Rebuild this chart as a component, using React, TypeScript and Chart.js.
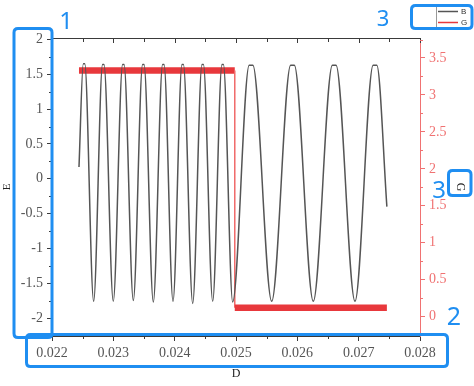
import React, { useEffect, useRef } from "react";
import { Chart, registerables } from "chart.js";
Chart.register(...registerables);

// ---- data ----
const seriesBLabel = "B";
const seriesGLabel = "G";

const bX = [
  0.02244,
  0.02251, 0.022534, 0.022679,
  0.022824, 0.022848, 0.022999,
  0.023151, 0.023175, 0.023326,
  0.023477, 0.023501, 0.023652,
  0.023803, 0.023827, 0.023973,
  0.024119, 0.024143, 0.024294,
  0.024445, 0.024469, 0.02462,
  0.024771, 0.024795, 0.024946,
  0.025215, 0.025275, 0.025582,
  0.025891, 0.025951, 0.02626,
  0.026571, 0.026631, 0.02694,
  0.027236, 0.027296, 0.02746,
];
const bY = [
  0.17,
  1.65, 1.65, -1.76,
  1.64, 1.64, -1.76,
  1.64, 1.64, -1.75,
  1.64, 1.64, -1.77,
  1.64, 1.64, -1.76,
  1.64, 1.64, -1.79,
  1.64, 1.64, -1.76,
  1.64, 1.64, -1.77,
  1.63, 1.63, -1.76,
  1.63, 1.63, -1.76,
  1.63, 1.63, -1.76,
  1.63, 1.63, -0.4,
];

const gX = [0.02244, 0.02498, 0.02498, 0.02746];
const gY = [3.33, 3.33, 0.12, 0.12];

const xTicks = [0.022, 0.023, 0.024, 0.025, 0.026, 0.027, 0.028];
const leftTicks = [-2, -1.5, -1, -0.5, 0, 0.5, 1, 1.5, 2];
const rightTicks = [0, 0.5, 1, 1.5, 2, 2.5, 3, 3.5];

const xTitle = "D";
const leftTitle = "E";
const rightTitle = "G";

// ---- styles ----
const AXIS = "#3a3a3a";
const LABEL = "#555";
const RED_AXIS = "#f07272";
const RED = "#e8383c";
const RED_THIN = "#f06a6a";
const GREY_LINE = "#555";
const BLUE = "#1f8ef1";
const TICK_FONT = { family: "'Liberation Serif', serif", size: 14 };

function minors(major: number[], min: number, max: number) {
  const out: number[] = [];
  const step = major[1] - major[0];
  const first = major[0] - step / 2;
  for (let i = -1; i < major.length; i++) {
    const v = i < 0 ? first : major[i] + step / 2;
    if (v >= min && v <= max) out.push(v);
  }
  return out;
}

function roundBox(ctx: CanvasRenderingContext2D, x1: number, y1: number, x2: number, y2: number, r: number) {
  ctx.beginPath();
  ctx.moveTo(x1 + r, y1);
  ctx.lineTo(x2 - r, y1);
  ctx.quadraticCurveTo(x2, y1, x2, y1 + r);
  ctx.lineTo(x2, y2 - r);
  ctx.quadraticCurveTo(x2, y2, x2 - r, y2);
  ctx.lineTo(x1 + r, y2);
  ctx.quadraticCurveTo(x1, y2, x1, y2 - r);
  ctx.lineTo(x1, y1 + r);
  ctx.quadraticCurveTo(x1, y1, x1 + r, y1);
  ctx.closePath();
  ctx.stroke();
}

const framePlugin = {
  id: "frameAndNotes",
  afterDraw(chart: any) {
    const { ctx, chartArea: ca, scales } = chart;
    const sx = scales.x, sy = scales.y, sy2 = scales.y2;
    ctx.save();
    ctx.lineWidth = 1;
    // top frame line
    ctx.strokeStyle = AXIS;
    ctx.beginPath();
    ctx.moveTo(ca.left, Math.round(ca.top) + 0.5);
    ctx.lineTo(ca.right, Math.round(ca.top) + 0.5);
    ctx.stroke();
    const xm = minors(xTicks, sx.min, sx.max);
    const tick = (px: number, py: number, dx: number, dy: number) => {
      ctx.beginPath();
      ctx.moveTo(px, py);
      ctx.lineTo(px + dx, py + dy);
      ctx.stroke();
    };
    // top inward ticks
    xTicks.forEach((v) => tick(Math.round(sx.getPixelForValue(v)) + 0.5, ca.top, 0, 5));
    xm.forEach((v) => tick(Math.round(sx.getPixelForValue(v)) + 0.5, ca.top, 0, 4));
    // bottom minor ticks
    xm.forEach((v) => tick(Math.round(sx.getPixelForValue(v)) + 0.5, ca.bottom, 0, 3));
    // left minor ticks
    minors(leftTicks, sy.min, sy.max).forEach((v) =>
      tick(ca.left, Math.round(sy.getPixelForValue(v)) + 0.5, -3, 0)
    );
    // right minor ticks
    ctx.strokeStyle = RED_AXIS;
    minors(rightTicks, sy2.min, sy2.max).forEach((v) =>
      tick(ca.right, Math.round(sy2.getPixelForValue(v)) + 0.5, 3, 0)
    );

    // legend
    const ds = chart.data.datasets;
    ctx.strokeStyle = "#999";
    tick(436.5, 6, 0, 22);
    ctx.lineWidth = 1.5;
    ctx.strokeStyle = GREY_LINE;
    tick(438, 11.5, 20, 0);
    ctx.strokeStyle = RED;
    tick(438, 22.5, 20, 0);
    ctx.fillStyle = "#333";
    ctx.font = "8px 'Liberation Sans', sans-serif";
    ctx.textBaseline = "middle";
    ctx.textAlign = "left";
    ctx.fillText(ds[0].label, 461, 11.5);
    ctx.fillText(ds[1].label, 461, 22.5);

    // blue annotation boxes
    ctx.strokeStyle = BLUE;
    ctx.lineWidth = 3;
    roundBox(ctx, 14, 28.5, 52, 337.5, 4);
    roundBox(ctx, 26.5, 334.5, 447.5, 366.5, 4);
    roundBox(ctx, 411.5, 5.5, 472, 28.5, 4);
    roundBox(ctx, 448.5, 170.5, 471, 195.5, 4);
    ctx.fillStyle = BLUE;
    ctx.textAlign = "center";
    ctx.textBaseline = "middle";
    ctx.font = "24px 'Noto Sans', sans-serif";
    ctx.fillText("1", 66, 22);
    ctx.fillText("3", 439, 191);
    ctx.font = "25px 'Noto Sans', sans-serif";
    ctx.fillText("2", 454, 318);
    ctx.font = "22px 'Noto Sans', sans-serif";
    ctx.fillText("3", 383, 20);
    ctx.restore();
  },
};

export default function App() {
  const ref = useRef<HTMLCanvasElement>(null);
  useEffect(() => {
    const canvas = ref.current!;
    const chart = new Chart(canvas, {
      type: "line",
      data: {
        datasets: [
          {
            label: seriesBLabel,
            data: bX.map((x, i) => ({ x, y: bY[i] })),
            borderColor: GREY_LINE,
            borderWidth: 1.5,
            pointRadius: 0,
            cubicInterpolationMode: "monotone",
            yAxisID: "y",
          },
          {
            label: seriesGLabel,
            data: gX.map((x, i) => ({ x, y: gY[i] })),
            borderColor: RED,
            borderWidth: 6.5,
            borderCapStyle: "butt",
            pointRadius: 0,
            tension: 0,
            yAxisID: "y2",
            segment: {
              borderWidth: (c: any) => (c.p0.parsed.x === c.p1.parsed.x ? 1.5 : 6.5),
              borderColor: (c: any) => (c.p0.parsed.x === c.p1.parsed.x ? RED_THIN : RED),
            },
          },
        ],
      },
      options: {
        animation: false,
        responsive: false,
        devicePixelRatio: 1,
        layout: { padding: { top: 38, left: 0, right: 0, bottom: 0 } },
        plugins: { legend: { display: false }, tooltip: { enabled: false } },
        scales: {
          x: {
            type: "linear",
            min: 0.022,
            max: 0.028,
            afterFit: (s: any) => { s.height = 50; },
            afterBuildTicks: (s: any) => { s.ticks = xTicks.map((v) => ({ value: v })); },
            ticks: {
              color: LABEL,
              font: TICK_FONT,
              padding: 4,
              maxRotation: 0,
              autoSkip: false,
              callback: (v: any) => Number(v).toFixed(3),
            },
            grid: { display: true, drawOnChartArea: false, drawTicks: true, tickLength: 5, color: AXIS },
            border: { display: true, color: AXIS },
            title: {
              display: true,
              text: xTitle,
              color: "#222",
              font: { family: "'Liberation Serif', serif", size: 12 },
              padding: { top: 0, bottom: 5 },
            },
          },
          y: {
            type: "linear",
            position: "left",
            min: -2.2585,
            max: 2.0215,
            afterFit: (s: any) => { s.width = 52; },
            afterBuildTicks: (s: any) => { s.ticks = leftTicks.map((v) => ({ value: v })); },
            ticks: { color: LABEL, font: TICK_FONT, padding: 4, callback: (v: any) => String(v) },
            grid: { display: true, drawOnChartArea: false, drawTicks: true, tickLength: 5, color: AXIS },
            border: { display: true, color: AXIS },
            title: {
              display: true,
              text: leftTitle,
              color: "#222",
              font: { family: "'Liberation Serif', serif", size: 11 },
              padding: { top: 1, bottom: 0 },
            },
          },
          y2: {
            type: "linear",
            position: "right",
            min: -0.2614,
            max: 3.7706,
            afterFit: (s: any) => { s.width = 54; },
            afterBuildTicks: (s: any) => { s.ticks = rightTicks.map((v) => ({ value: v })); },
            ticks: { color: RED_AXIS, font: TICK_FONT, padding: 4, callback: (v: any) => String(v) },
            grid: { display: true, drawOnChartArea: false, drawTicks: true, tickLength: 5, color: RED_AXIS },
            border: { display: true, color: RED_AXIS },
            title: {
              display: true,
              text: rightTitle,
              color: "#222",
              font: { family: "'Liberation Serif', serif", size: 12 },
              padding: { top: 7, bottom: 0 },
            },
          },
        },
      },
      plugins: [framePlugin],
    } as any);
    return () => chart.destroy();
  }, []);
  return (
    <div style={{ position: "absolute", left: 0, top: 0, width: 474, height: 386, background: "#fff" }}>
      <canvas ref={ref} width={474} height={386} />
    </div>
  );
}
